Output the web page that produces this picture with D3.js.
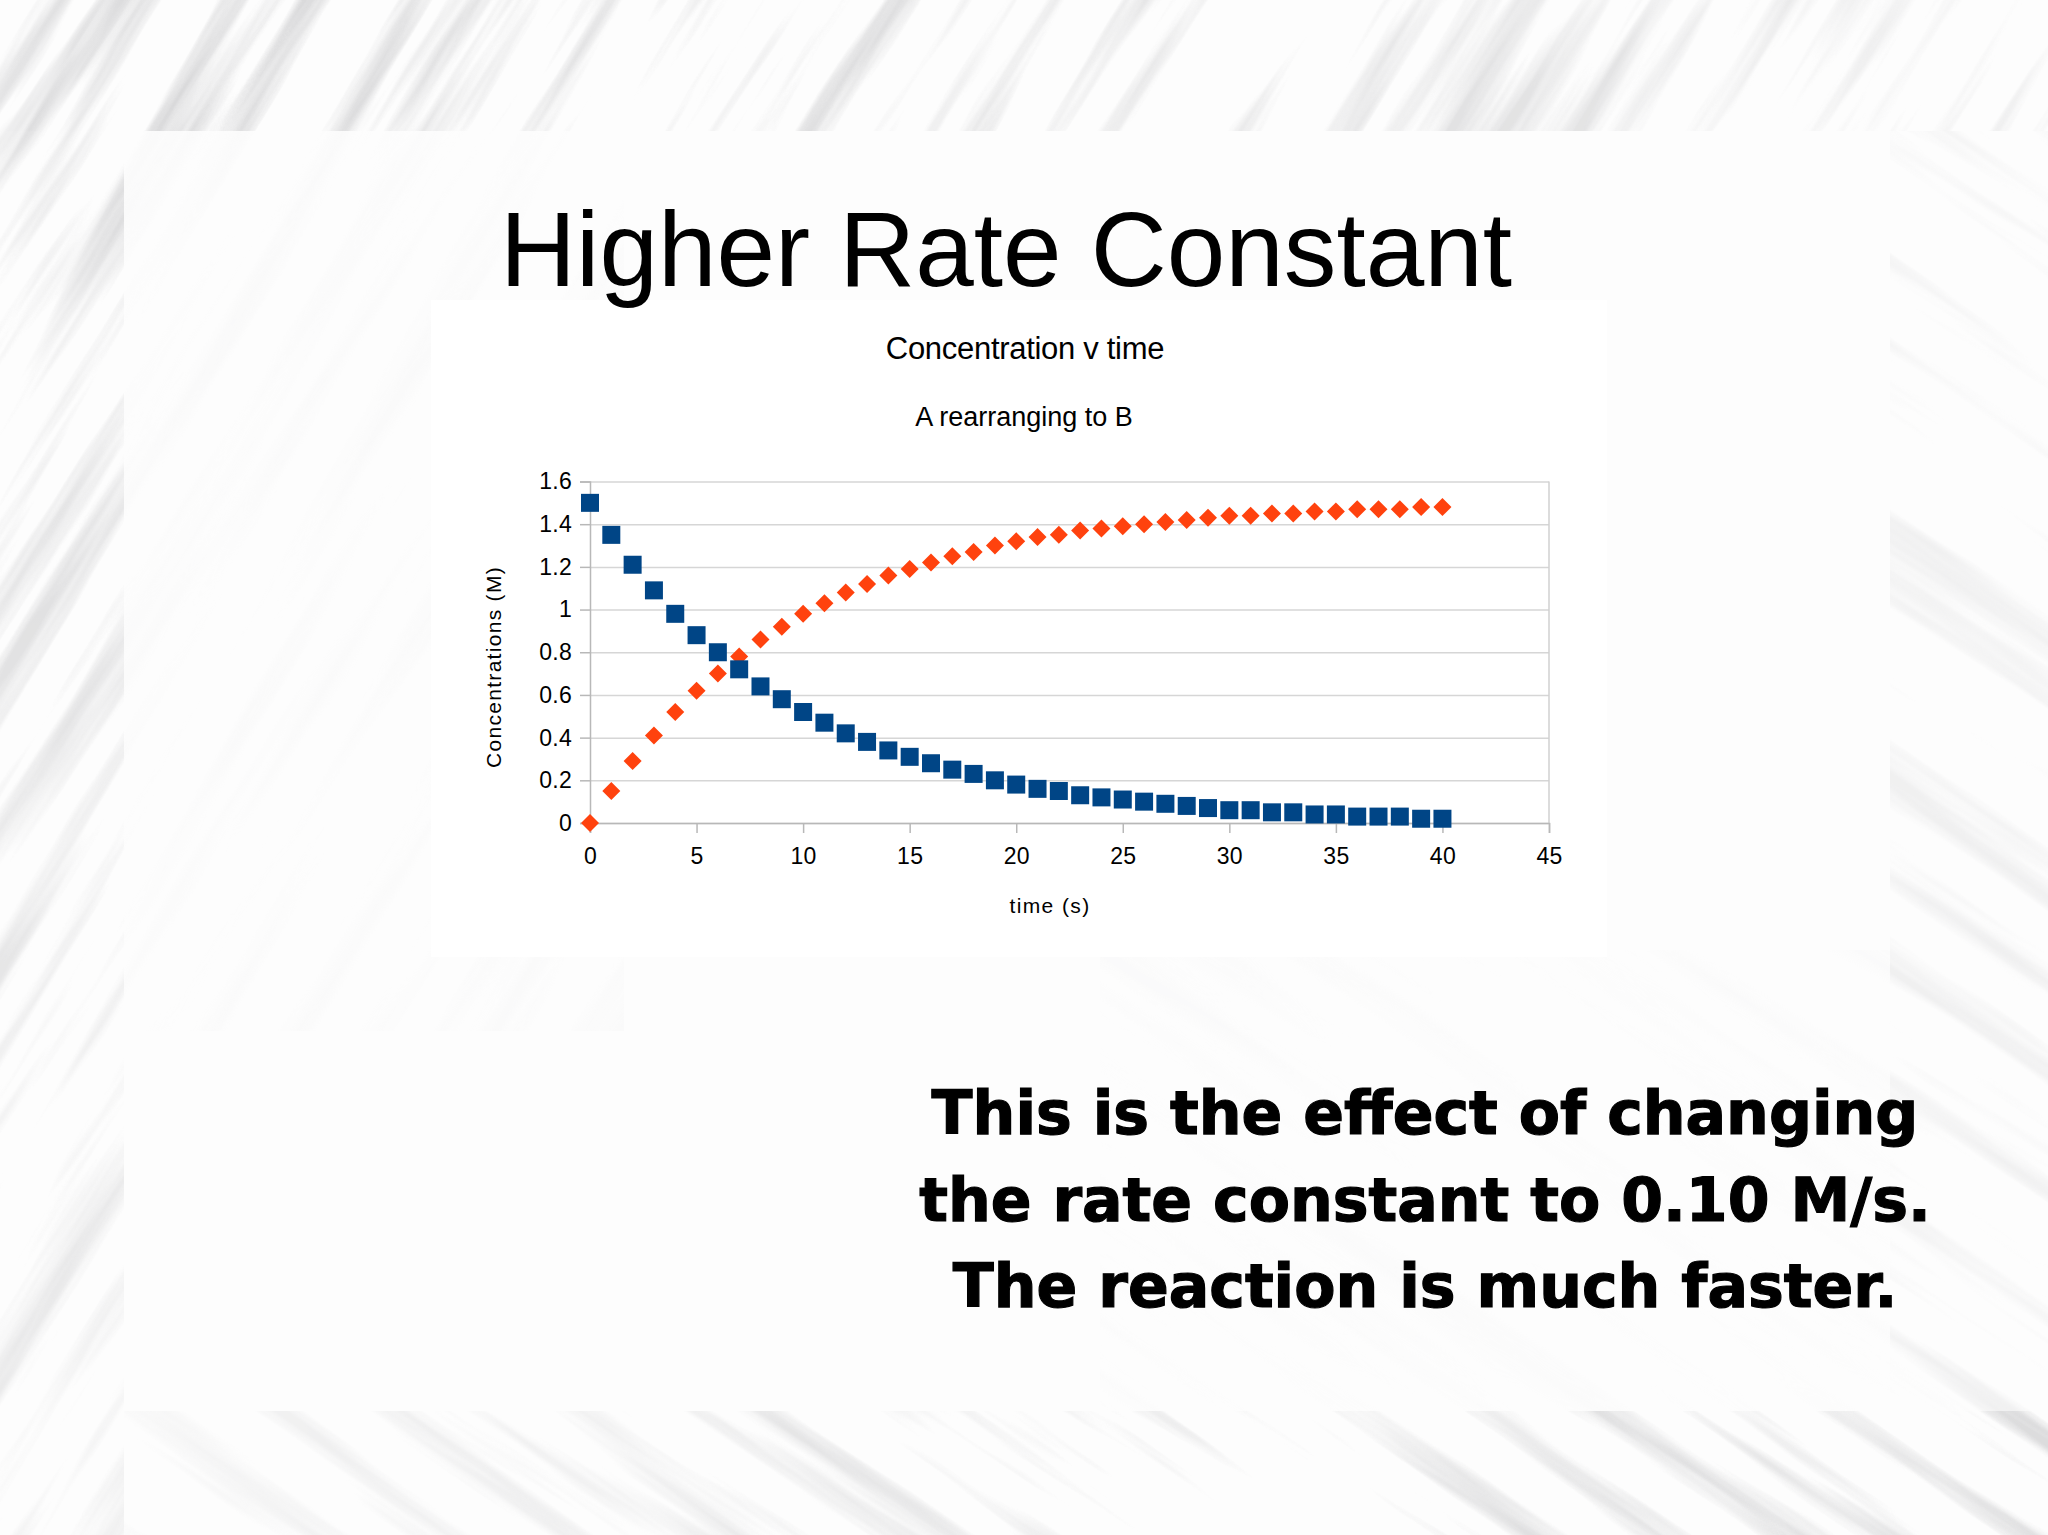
<!DOCTYPE html>
<html>
<head>
<meta charset="utf-8">
<script src="https://cdn.jsdelivr.net/npm/d3@7"></script>
<style>
  body { margin: 0; background: #fff; }
  svg { display: block; }
</style>
</head>
<body>
<script>
// values
const TIME = [0, 1, 2, 3, 4, 5, 6, 7, 8, 9, 10, 11, 12, 13, 14, 15, 16, 17, 18, 19, 20,
  21, 22, 23, 24, 25, 26, 27, 28, 29, 30, 31, 32, 33, 34, 35, 36, 37, 38, 39, 40];
const CONC_A = [1.50, 1.35, 1.21, 1.09, 0.98, 0.88, 0.80, 0.72, 0.64, 0.58, 0.52,
  0.47, 0.42, 0.38, 0.34, 0.31, 0.28, 0.25, 0.23, 0.20, 0.18,
  0.16, 0.15, 0.13, 0.12, 0.11, 0.10, 0.09, 0.08, 0.07, 0.06,
  0.06, 0.05, 0.05, 0.04, 0.04, 0.03, 0.03, 0.03, 0.02, 0.02];
const CONC_B = [0.00, 0.15, 0.29, 0.41, 0.52, 0.62, 0.70, 0.78, 0.86, 0.92, 0.98,
  1.03, 1.08, 1.12, 1.16, 1.19, 1.22, 1.25, 1.27, 1.30, 1.32,
  1.34, 1.35, 1.37, 1.38, 1.39, 1.40, 1.41, 1.42, 1.43, 1.44,
  1.44, 1.45, 1.45, 1.46, 1.46, 1.47, 1.47, 1.47, 1.48, 1.48];
const X_TICKS = [0, 5, 10, 15, 20, 25, 30, 35, 40, 45];
const Y_TICKS = [0, 0.2, 0.4, 0.6, 0.8, 1, 1.2, 1.4, 1.6];
const BODY_LINES = [
  'This is the effect of changing',
  'the rate constant to 0.10 M/s.',
  'The reaction is much faster.'];

const WIDTH = 2048;
const HEIGHT = 1535;
const PLOT_LEFT = 590;
const PLOT_RIGHT = 1549;
const PLOT_TOP = 481.5;
const PLOT_BOTTOM = 823;
const SLIDE = { x0: 124, y0: 131, x1: 1890, y1: 1411 };
const FONT = '"Liberation Sans", Arial, sans-serif';

const svg = d3.select('body').append('svg').
attr('width', WIDTH).
attr('height', HEIGHT);

const defs = svg.append('defs');

/* --BACKGROUND (feather texture round the slide)-- */

const feather = defs.append('filter').
attr('id', 'feather').
attr('filterUnits', 'userSpaceOnUse').
attr('x', -1500).attr('y', -1500).
attr('width', 5000).attr('height', 5000);
feather.append('feTurbulence').
attr('type', 'fractalNoise').
attr('baseFrequency', '0.0018 0.028').
attr('numOctaves', 4).
attr('seed', 11);
feather.append('feColorMatrix').
attr('type', 'matrix').
attr('values', '0 0 0 0 0.68  0 0 0 0 0.68  0 0 0 0 0.69  3.2 0 0 0 -1.6');

const addGradient = (id, x2, y2, stops) => {
  const g = defs.append('linearGradient').
  attr('id', id).
  attr('x1', 0).attr('y1', 0).
  attr('x2', x2).attr('y2', y2);
  stops.forEach(([o, c]) => g.append('stop').attr('offset', o).attr('stop-color', c));
};
addGradient('topFade', 1, 0, [[0, '#fff'], [0.45, '#ddd'], [0.7, '#bbb'], [1, '#888']]);
addGradient('leftFade', 0, 1, [[0, '#eee'], [0.6, '#999'], [1, '#777']]);
addGradient('bottomFade', 1, 0, [[0, '#333'], [0.4, '#aaa'], [1, '#ddd']]);

// mask for the top / left streaks
const maskA = defs.append('mask').attr('id', 'maskA');
maskA.append('rect').attr('width', WIDTH).attr('height', SLIDE.y0).attr('fill', 'url(#topFade)');
maskA.append('rect').
attr('y', SLIDE.y0).attr('width', SLIDE.x0).attr('height', HEIGHT - SLIDE.y0).
attr('fill', 'url(#leftFade)');
maskA.append('rect').
attr('x', SLIDE.x0).attr('y', SLIDE.y0).
attr('width', 500).attr('height', 900).
attr('fill', '#151515');

// mask for the bottom / right streaks
const maskB = defs.append('mask').attr('id', 'maskB');
maskB.append('rect').
attr('x', SLIDE.x0).attr('y', SLIDE.y1).
attr('width', WIDTH - SLIDE.x0).attr('height', HEIGHT - SLIDE.y1).
attr('fill', 'url(#bottomFade)');
maskB.append('rect').
attr('x', SLIDE.x1).attr('y', SLIDE.y0).
attr('width', WIDTH - SLIDE.x1).attr('height', SLIDE.y1 - SLIDE.y0).
attr('fill', '#555');
maskB.append('rect').
attr('x', 1100).attr('y', 950).
attr('width', SLIDE.x1 - 1100).attr('height', SLIDE.y1 - 950).
attr('fill', '#101010');

svg.append('rect').
attr('width', WIDTH).
attr('height', HEIGHT).
attr('fill', '#fdfdfd');

svg.append('g').attr('mask', 'url(#maskA)').
append('rect').
attr('x', -1500).attr('y', -1500).
attr('width', 5000).attr('height', 5000).
attr('transform', 'rotate(-58 300 100)').
attr('filter', 'url(#feather)');

svg.append('g').attr('mask', 'url(#maskB)').
append('rect').
attr('x', -1500).attr('y', -1500).
attr('width', 5000).attr('height', 5000).
attr('transform', 'rotate(34 1400 1450)').
attr('filter', 'url(#feather)');

// white chart area
svg.append('rect').
attr('x', 431).attr('y', 300).
attr('width', 1607 - 431).attr('height', 957 - 300).
attr('fill', '#fff');

/* --TEXT-- */

const fitText = (sel, width) => {
  const w = sel.node().getComputedTextLength();
  const fs = parseFloat(sel.attr('font-size'));
  sel.attr('font-size', fs * width / w);
};

const title = svg.append('text').
attr('x', 1006).
attr('y', 286).
attr('text-anchor', 'middle').
attr('font-family', FONT).
attr('font-size', 106).
attr('fill', '#000').
text('Higher Rate Constant');
fitText(title, 1012);

svg.append('text').
attr('x', 1025).
attr('y', 359).
attr('text-anchor', 'middle').
attr('font-family', FONT).
attr('font-size', 31).
attr('letter-spacing', -0.3).
text('Concentration v time');

svg.append('text').
attr('x', 1024).
attr('y', 426).
attr('text-anchor', 'middle').
attr('font-family', FONT).
attr('font-size', 27).
text('A rearranging to B');

/* --SCALES-- */

const xScale = d3.scaleLinear().
domain([0, 45]).
range([PLOT_LEFT, PLOT_RIGHT]);

const yScale = d3.scaleLinear().
domain([0, 1.6]).
range([PLOT_BOTTOM, PLOT_TOP]);

/* --GRID & AXES-- */

const grid = svg.append('g').
attr('transform', `translate(${PLOT_LEFT},0)`).
call(d3.axisLeft(yScale).tickValues(Y_TICKS).tickSize(-(PLOT_RIGHT - PLOT_LEFT)).tickFormat(''));
grid.select('.domain').remove();
grid.selectAll('line').attr('stroke', '#d6d6d6').attr('stroke-width', 1.5);

svg.append('line').
attr('x1', xScale(45)).attr('x2', xScale(45)).
attr('y1', PLOT_TOP).attr('y2', PLOT_BOTTOM).
attr('stroke', '#d0d0d0').
attr('stroke-width', 1.5);

const yAxis = svg.append('g').
attr('transform', `translate(${PLOT_LEFT},0)`).
call(d3.axisLeft(yScale).tickValues(Y_TICKS).tickSize(10).tickPadding(8).tickFormat(d => String(d)));

const xAxis = svg.append('g').
attr('transform', `translate(0,${PLOT_BOTTOM})`).
call(d3.axisBottom(xScale).tickValues(X_TICKS).tickSize(10).tickPadding(15));

[xAxis, yAxis].forEach(ax => {
  ax.select('.domain').attr('stroke', '#b8b8b8').attr('stroke-width', 1.5);
  ax.selectAll('.tick line').attr('stroke', '#b8b8b8').attr('stroke-width', 1.5);
  ax.selectAll('.tick text').
  attr('fill', '#000').
  attr('font-family', FONT).
  attr('font-size', 23).
  attr('letter-spacing', 0.3);
});

svg.append('text').
attr('transform', 'translate(501,667) rotate(-90)').
attr('text-anchor', 'middle').
attr('font-family', FONT).
attr('font-size', 21).
attr('letter-spacing', 1.3).
text('Concentrations (M)');

svg.append('text').
attr('x', 1050).
attr('y', 913).
attr('text-anchor', 'middle').
attr('font-family', FONT).
attr('font-size', 21).
attr('letter-spacing', 1.4).
text('time (s)');

/* --DATA RENDERING-- */

const pointsB = TIME.map((t, i) => ({ t, v: CONC_B[i] }));
const pointsA = TIME.map((t, i) => ({ t, v: CONC_A[i] }));

svg.append('g').
selectAll('path').
data(pointsB).
join('path').
attr('d', d3.symbol(d3.symbolSquare, 162)).
attr('transform', d => `translate(${xScale(d.t)},${yScale(d.v)}) rotate(45)`).
attr('fill', '#ff420e');

svg.append('g').
selectAll('path').
data(pointsA).
join('path').
attr('d', d3.symbol(d3.symbolSquare, 324)).
attr('transform', d => `translate(${xScale(d.t)},${yScale(d.v)})`).
attr('fill', '#004586');

/* --BODY TEXT-- */

const body = svg.append('g').
attr('font-family', '"DejaVu Sans", sans-serif').
attr('font-weight', 'bold').
attr('text-anchor', 'middle').
attr('fill', '#000').
attr('stroke', '#000').
attr('stroke-width', 1.2);

const lines = body.selectAll('text').
data(BODY_LINES).
join('text').
attr('x', 1425).
attr('y', (d, i) => 1134 + i * 86.5).
attr('font-size', 60).
text(d => d);

const firstW = lines.nodes()[0].getComputedTextLength();
lines.attr('font-size', 60 * 987 / firstW);
</script>
</body>
</html>
